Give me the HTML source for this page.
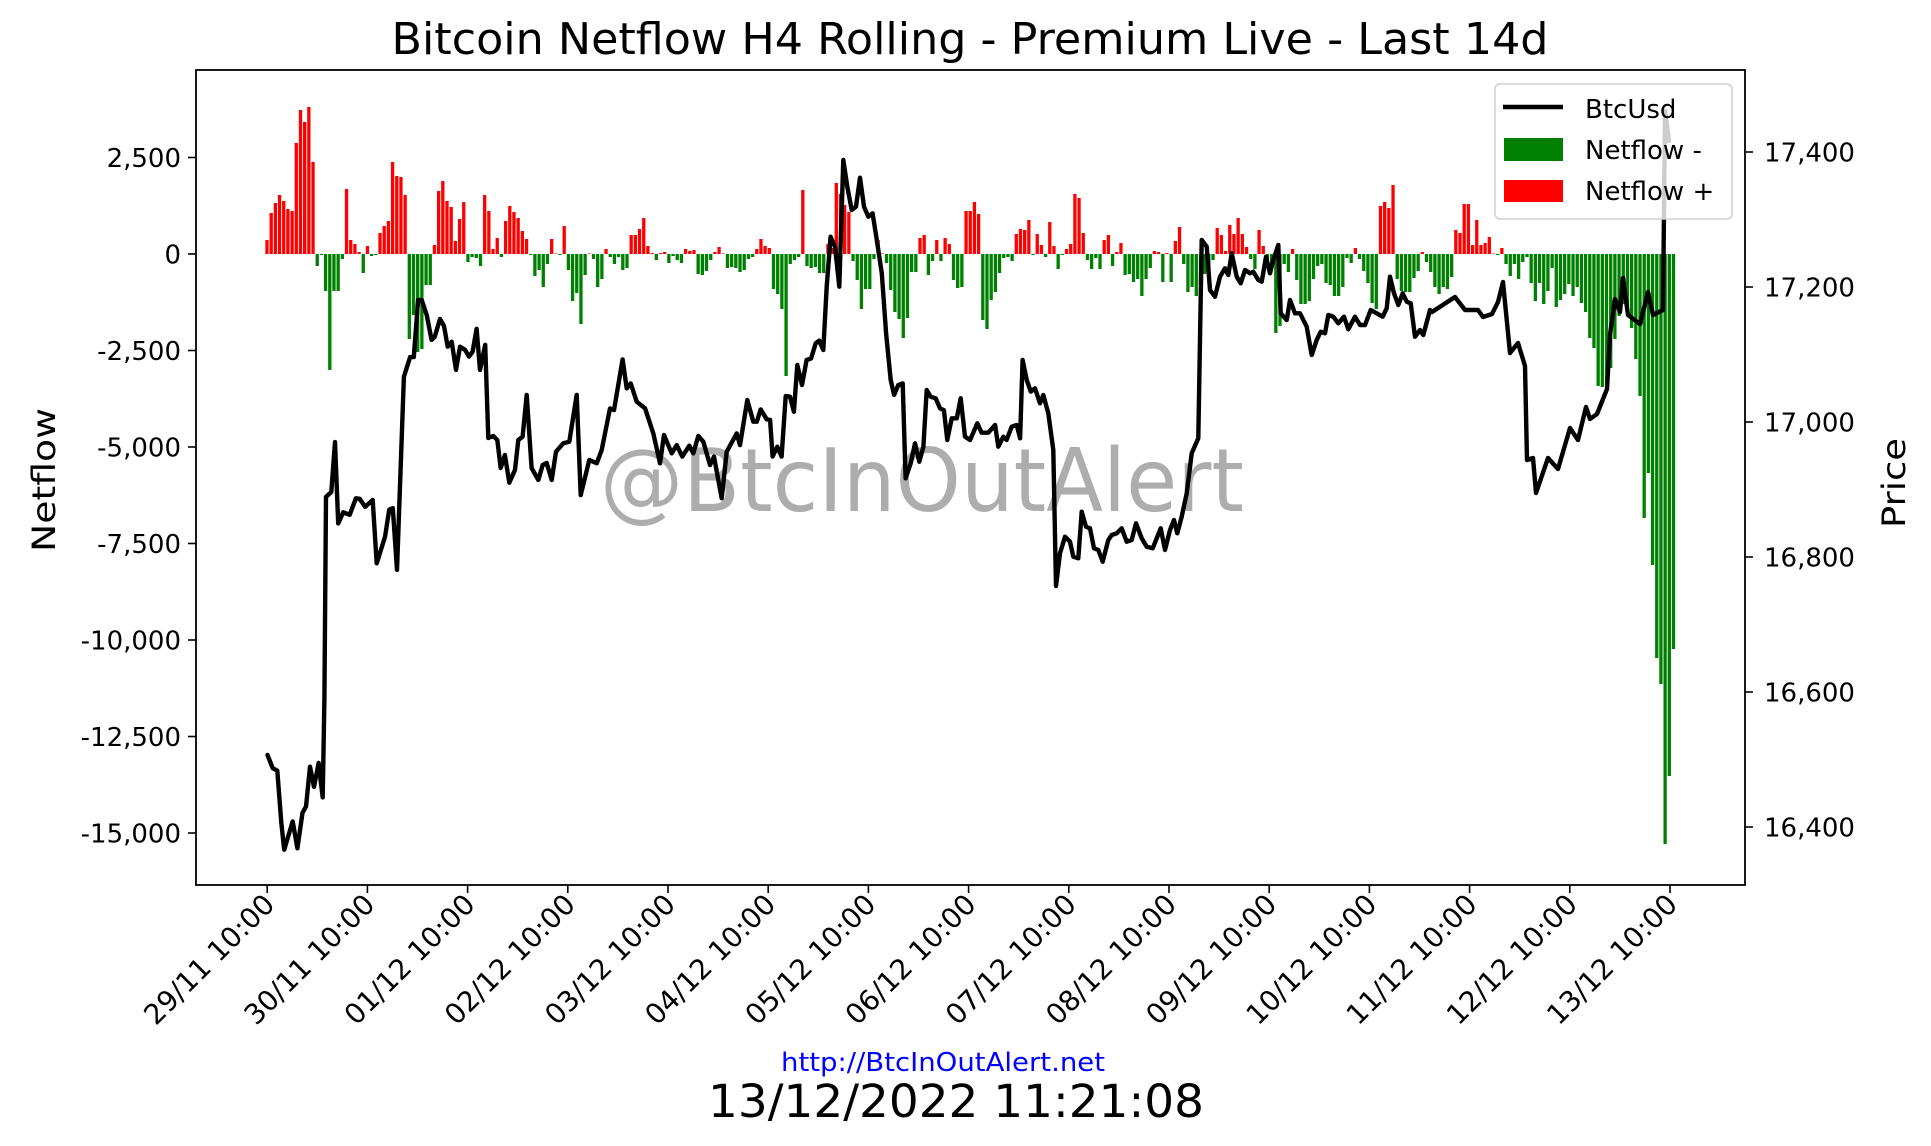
<!DOCTYPE html>
<html><head><meta charset="utf-8"><style>
html,body{margin:0;padding:0;background:#fff;}
svg{display:block;font-family:"DejaVu Sans","Liberation Sans",sans-serif;}
</style></head><body>
<svg id="s" width="1931" height="1146" viewBox="0 0 1931 1146" xmlns="http://www.w3.org/2000/svg">
<rect x="0" y="0" width="1931" height="1146" fill="#fff"/>
<g id="bars"></g>
<path id="line" d="" fill="none" stroke="#000" stroke-width="4.4" stroke-linejoin="round" stroke-linecap="round"/>
<text x="922" y="511" font-size="87" fill="#000" fill-opacity="0.32" text-anchor="middle" textLength="644" lengthAdjust="spacingAndGlyphs">@BtcInOutAlert</text>
<rect x="196" y="70" width="1549" height="815" fill="none" stroke="#000" stroke-width="1.8"/>
<g id="ticks" stroke="#000" stroke-width="1.6"></g>
<g id="ticklabels" font-size="26" fill="#000"></g>
<text x="970" y="54" font-size="44" text-anchor="middle" textLength="1157" lengthAdjust="spacingAndGlyphs">Bitcoin Netflow H4 Rolling - Premium Live - Last 14d</text>
<text transform="translate(55,480) rotate(-90)" font-size="32" text-anchor="middle" textLength="144" lengthAdjust="spacingAndGlyphs">Netflow</text>
<text transform="translate(1905,483) rotate(-90)" font-size="32" text-anchor="middle" textLength="90" lengthAdjust="spacingAndGlyphs">Price</text>
<rect x="1495" y="84" width="237" height="135" rx="5" fill="#fff" fill-opacity="0.8" stroke="#d0d0d0" stroke-width="1.6"/>
<line x1="1503" y1="107" x2="1563" y2="107" stroke="#000" stroke-width="4.4"/>
<rect x="1504" y="138" width="59" height="23" fill="#008000"/>
<rect x="1504" y="180" width="59" height="22" fill="#ff0000"/>
<text x="1585" y="118" font-size="26">BtcUsd</text>
<text x="1585" y="159" font-size="26">Netflow -</text>
<text x="1585" y="200" font-size="26">Netflow +</text>
<text x="943" y="1071" font-size="26" fill="#0000ff" text-anchor="middle" textLength="324" lengthAdjust="spacingAndGlyphs">http://BtcInOutAlert.net</text>
<text x="956" y="1117" font-size="45" text-anchor="middle" textLength="496" lengthAdjust="spacingAndGlyphs">13/12/2022 11:21:08</text>
</svg>
<script>
var NS="http://www.w3.org/2000/svg";
function el(t,a,p){var e=document.createElementNS(NS,t);for(var k in a)e.setAttribute(k,a[k]);p.appendChild(e);return e;}
var A=[14,41,51,59,53,45,43,111,144,132,147,92,-12,-1,-37,-116,-37,-37,-5,65,14,10,2,-19,8,-2,-1,21,28,33,92,78,77,59,-85,-61,-98,-95,-31,-31,9,63,73,53,47,13,35,52,-8,-3,-4,-12,59,43,5,16,-3,33,48,42,36,23,15,-1,-22,-16,-33,-10,15,0,-1,28,-16,-47,-39,-70,-21,0,-5,-33,-25,5,-3,-10,-3,-16,-14,19,19,25,36];
var B=[8,1,-6,1,2,-9,-2,-6,-9,5,3,4,-20,-21,-17,-6,2,7,0,-14,-13,-14,-18,-16,-5,-3,5,15,8,6,-35,-40,-55,-122,-10,-6,-3,64,-12,-14,-13,-19,-19,10,6,71,60,49,42,-7,-26,-55,-35,-35,-5,14,0,-9,-36,-58,-65,-84,-64,-18,-18,16,19,-21,-7,14,-7,16,10,-26,-34,-33,43,43,52,40,-66,-75,-46,-38,-19,-4,-3,-7,20,25,24,34,-1,20];
var C=[9,-3,32,8,-15,-1,5,10,60,56,21,-6,-15,-4,-15,14,19,-12,2,11,-21,-20,-28,-25,-42,-25,-14,3,2,-28,1,-28,13,27,-10,-38,-33,-42,-30,-20,-12,-6,26,19,3,29,20,36,20,7,-5,-15,24,8,-5,-15,-79,-72,-10,-18,5,-26,-50,-50,-47,-25,-12,-10,-29,-31,-42,-42,-33,-4,-9,6,-5,-17,-29,-49,-55,48,52,46,69,-25,-37,-38,-38,-24,-17,2];
var D=[-8,-18,-33,-40,-33,-35,-23,24,21,50,50,9,34,9,11,17,0,-1,6,-10,-22,-10,-25,-8,-3,-29,-47,-29,-50,-37,-14,-53,-46,-40,-30,-42,-33,-49,-58,-84,-94,-132,-133,-132,-114,-85,-62,-50,-60,-74,-105,-142,-264,-219,-311,-404,-430,-590,-522,-395];
var V=A.concat(B,C,D);var bars=document.getElementById('bars');
var x0=267,x1=1673.5,N=V.length,p=(x1-x0)/(N-1),Z=254,w=3.3;
for(var i=0;i<N;i++){var v=V[i];if(v===0)v=0.5;var x=x0+i*p-w/2;
 if(v>0)el('rect',{x:x.toFixed(2),y:(Z-v).toFixed(2),width:w,height:v,fill:'#ff0000'},bars);
 else el('rect',{x:x.toFixed(2),y:Z,width:w,height:-v,fill:'#008000'},bars);}
var OV=[217.2,613,221.4,623.8,225.2,625.8,228.4,668,230.8,690,237.7,667,241.5,688.8,245.6,660,248.5,655,251.7,622.6,255,639,258.7,619.6,262,647.5,263.4,568,264.7,403.5,269,399.5,272,359,274.6,425,278.7,416,284,418,289,404.6,292,405,296.5,411.5,302.6,406,305.9,457.5,312.6,436,316,414,319,412.6,322.4,462.8,328,306,333,290,336,290,339.5,243.6,342.4,243.6,346.5,255.8,350.5,276,353,273.6,357.3,259,360.5,264.7,363.5,281.5,366.8,277.5,370.3,300.4,373.5,281.5,377.6,284,380.8,289.6,383.8,285.6,387,267,389.8,300.4,394,280,396.5,355.7,400.6,354,403.8,357.3,406.6,380,410,369.5,413.6,392,418.2,381.6,420.9,357.3,424.4,354.6,427.7,320.7,431.7,380,437.1,389.8,440.7,377.6,443.9,376,448,389.8,451.5,366.8,457.4,360,462.3,358.7,468.3,320.7,471.5,402,478.5,373.5,484.5,376.2,488.6,365.4,495.3,331.6,498.6,333,505.6,291.8,508.9,315.3,512.1,311.3,517,326.2,523.8,331.6,
530.5,351.9,535.9,376.2,539.2,353.2,545.4,368.1,549.5,361.4,554,370.8,559.7,361.9,563,368.1,567,354,571.1,358.7,576.5,377.6,579.8,370.8,586,404.6,590.1,366.8,598.2,351.9,600.9,361.4,606.8,324.8,611.7,342.4,614.5,342.4,617.7,332.4,622.6,340.5,625.3,341,627.4,370.8,631.2,362.7,634.7,370.8,638,321.6,641.5,322.1,644.7,334.3,647.4,296.4,651.2,312.6,655,292.3,658.6,291,662.4,278.8,665.3,276.6,668.5,284.2,671.3,232.8,674.5,192.2,678,200.3,681.5,232.8,684.8,129.9,688,151.6,691.6,170.5,695.1,167.8,698.3,144.3,701.6,167.8,705.1,176,708.6,173.2,712.4,197.6,716,222,719.5,270.7,723.3,308.6,726,320.7,729.4,312.6,733,311.3,735.4,388.4,739.5,376.2,743,360,746.5,374.9,749.8,362.7,752.5,316.7,755.7,322.1,759.8,323.4,763.3,331.6,766.5,333,769.2,357.3,772.8,339.7,776.9,339.7,780.1,323.4,783.6,354.6,787.7,357.3,793.6,343.7,797.1,351.4,802.5,351.4,808,345.1,810.6,362.7,814.7,354.6,817.4,357.3,821.5,346.5,825.6,345.1,828.3,355.9,830.4,292.3,833.7,308.6,837,318,840.4,315.3,844.5,327.5];
var RL=[1043.3,395,1048.3,413.3,1053.3,450,1056,586,1060,553.3,1065,536.7,1070,541.7,1073.3,556.7,1078.3,558.3,1081.7,511.7,1086,526.7,1090,528.3,1094,548.3,1098.3,550,1102.7,561.7,1108.3,540,1111.7,535,1116.7,533.3,1121.7,528.3,1126.7,541.7,1131.7,540,1136,523.3,1141.7,538.3,1146.7,546.7,1152.7,548.3,1156.7,538.3,1160.7,528.3,1165,550,1170,530,1174,520,1177.3,533.3,1181.7,516.7,1186.7,493.3,1191.7,453.3,1198.3,438.3,1201.7,240,1206.7,246.7,1210,290,1215,296.7,1220,276.7,1225,268.3,1228.3,275,1231.7,253.3,1236.7,276.7,1240.7,283.3,1245,270,1250,273.3,1253.3,271.7,1258.3,280,1261.7,281.7,1266,256.7,1270,273.3,1273.3,260,1278.3,245,1280.7,313.3,1286.7,320,1290,300,1295,313.3,1300,313.3,1306.7,326.7,1311.7,355,1316.7,340,1320.7,331.7,1325,333.3,1328.3,315,1333.3,316.7,1338.3,323.3,1344,316.7,1348.3,329.3,1355,316.7,1360,325,1365,325,1370.7,310,1376.7,313.3,1382.7,316.7,1386.7,308.3,1390,276.7,1394,293.3,1398.3,305,1402.7,293.3,1406.7,301.7,1410.7,303.3,1415,336.7,1420,330,1423.3,335,1430,310,1432,312,1455,297,1465,310,1478,310,1483,317,1492,314,1498,302,1503,282,1510,353,1518,343,1525,366,1527,460,1533,458,1536,493,1548,458,1558,469,1570,428,1578,440,1586,407,1590,419,1597,414,1607,389,1610,335,1615,299,1620,312,1623,278,1628,315,1640,324,1648,292,1653,315,1663,310,1665,111,1669,141];
var k=1.2315,d='';
for(var i=0;i<OV.length;i+=2)d+=(i?'L':'M')+(OV[i]*k).toFixed(1)+' '+(OV[i+1]*k).toFixed(1);
for(var i=0;i<RL.length;i+=2)d+='L'+RL[i]+' '+RL[i+1];
document.getElementById('line').setAttribute('d',d);
var tk=document.getElementById('ticks'),tl=document.getElementById('ticklabels');
function fmt(n){var s=Math.abs(n).toString().replace(/\B(?=(\d{3})+(?!\d))/g,',');return (n<0?'-':'')+s;}
for(var v=2500;v>=-15000;v-=2500){var y=254-v*0.0386;el('line',{x1:188,y1:y,x2:196,y2:y},tk);var t=el('text',{x:181,y:y+9.5,'text-anchor':'end'},tl);t.textContent=fmt(v);}
for(var pr=16400;pr<=17400;pr+=200){var y=152+(17400-pr)*0.675;el('line',{x1:1745,y1:y,x2:1753,y2:y},tk);var t=el('text',{x:1764,y:y+9.5},tl);t.textContent=fmt(pr);}
var labs=['29/11','30/11','01/12','02/12','03/12','04/12','05/12','06/12','07/12','08/12','09/12','10/12','11/12','12/12','13/12'];
for(var i=0;i<15;i++){var x=267.2+i*100.2;el('line',{x1:x,y1:885,x2:x,y2:893},tk);var t=el('text',{transform:'translate('+(x+9)+',906) rotate(-45)','text-anchor':'end','font-size':'28'},tl);t.textContent=labs[i]+' 10:00';}
</script>
</body></html>
